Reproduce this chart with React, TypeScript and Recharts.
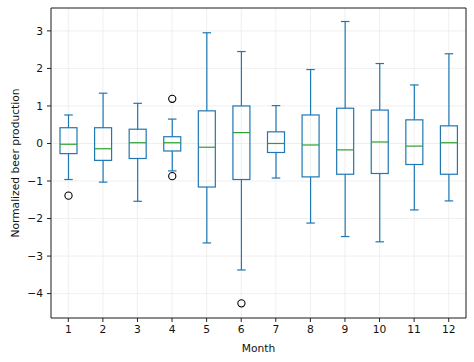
import React from 'react';
import { ComposedChart, Bar, XAxis, YAxis, CartesianGrid } from 'recharts';

// box plot stats per month
const months = ['1', '2', '3', '4', '5', '6', '7', '8', '9', '10', '11', '12'];
const whiskerHigh = [0.76, 1.34, 1.07, 0.65, 2.95, 2.45, 1.01, 1.97, 3.25, 2.13, 1.56, 2.39];
const q3 = [0.42, 0.42, 0.38, 0.18, 0.87, 1.0, 0.31, 0.76, 0.94, 0.89, 0.63, 0.47];
const medians = [-0.02, -0.14, 0.02, 0.02, -0.1, 0.29, 0.0, -0.04, -0.17, 0.04, -0.07, 0.02];
const q1 = [-0.27, -0.45, -0.4, -0.2, -1.16, -0.96, -0.24, -0.89, -0.82, -0.8, -0.56, -0.82];
const whiskerLow = [-0.96, -1.03, -1.54, -0.73, -2.65, -3.37, -0.92, -2.12, -2.48, -2.62, -1.77, -1.53];
const outliers = [[-1.39], [], [], [1.19, -0.87], [], [-4.26], [], [], [], [], [], []];
const yTicks = [-4, -3, -2, -1, 0, 1, 2, 3];

const data = months.map((m, i) => ({
  month: m,
  range: [whiskerLow[i], whiskerHigh[i]],
  lo: whiskerLow[i],
  hi: whiskerHigh[i],
  q1: q1[i],
  q3: q3[i],
  med: medians[i],
  out: outliers[i]
}));

const BLUE = '#1f77b4';
const GREEN = '#2ca02c';
const FONT = 'DejaVu Sans';
const FS = 10.7;

function BoxShape(props: any) {
  const { x, y, width, height, payload } = props;
  const top = Math.min(y, y + height);
  const h = Math.abs(height);
  const { lo, hi } = payload;
  // bar spans [lo, hi] on the library's scale, so interpolate inside it
  const toY = (v: number) => top + (h * (hi - v)) / (hi - lo);
  const cx = x + width / 2;
  const cap = width / 4;
  return (
    <g>
      <line x1={cx} x2={cx} y1={toY(hi)} y2={toY(payload.q3)} stroke={BLUE} strokeWidth={1.2} />
      <line x1={cx} x2={cx} y1={toY(payload.q1)} y2={toY(lo)} stroke={BLUE} strokeWidth={1.2} />
      <line x1={cx - cap} x2={cx + cap} y1={toY(hi)} y2={toY(hi)} stroke={BLUE} strokeWidth={1.2} />
      <line x1={cx - cap} x2={cx + cap} y1={toY(lo)} y2={toY(lo)} stroke={BLUE} strokeWidth={1.2} />
      <rect
        x={x}
        y={toY(payload.q3)}
        width={width}
        height={toY(payload.q1) - toY(payload.q3)}
        fill="none"
        stroke={BLUE}
        strokeWidth={1.2}
      />
      <line x1={x} x2={x + width} y1={toY(payload.med)} y2={toY(payload.med)} stroke={GREEN} strokeWidth={1.2} />
      {payload.out.map((v: number, k: number) => (
        <circle key={k} cx={cx} cy={toY(v)} r={3.6} fill="none" stroke="#000" strokeWidth={1.1} />
      ))}
    </g>
  );
}

const fmt = (v: number) => String(v).replace('-', '\u2212');

function YLabel(props: any) {
  const { viewBox } = props;
  const cx = viewBox.x + 15;
  const cy = viewBox.y + viewBox.height / 2;
  return (
    <text
      x={cx}
      y={cy}
      transform={`rotate(-90 ${cx} ${cy})`}
      textAnchor="middle"
      dominantBaseline="central"
      fill="#111"
      fontSize={FS}
      fontFamily={FONT}
    >
      Normalized beer production
    </text>
  );
}

function XLabel(props: any) {
  const { viewBox } = props;
  return (
    <text
      x={viewBox.x + viewBox.width / 2}
      y={348}
      textAnchor="middle"
      dominantBaseline="central"
      fill="#111"
      fontSize={FS}
      fontFamily={FONT}
    >
      Month
    </text>
  );
}

export default function App() {
  return (
    <div style={{ width: 474, height: 362, background: '#fff' }}>
      <style>{'body{margin:0}'}</style>
      <ComposedChart
        width={474}
        height={362}
        data={data}
        margin={{ top: 7, right: 7, bottom: 0, left: 0 }}
      >
        <CartesianGrid stroke="#ebebeb" strokeWidth={0.8} />
        <XAxis xAxisId="top" orientation="top" dataKey="month" height={1} tick={false} tickLine={false} stroke="#222" />
        <XAxis
          dataKey="month"
          height={44}
          stroke="#222"
          tickSize={4}
          tickMargin={3}
          tick={{ fill: '#111', fontSize: FS, fontFamily: FONT }}
          label={<XLabel />}
        />
        <YAxis
          type="number"
          domain={[-4.65, 3.61]}
          ticks={yTicks}
          width={51}
          stroke="#222"
          tickSize={4}
          tickMargin={4}
          tickFormatter={fmt}
          tick={{ fill: '#111', fontSize: FS, fontFamily: FONT }}
          label={<YLabel />}
        />
        <YAxis yAxisId="right" orientation="right" width={1} tick={false} tickLine={false} stroke="#222" />
        <Bar dataKey="range" barSize={17} shape={BoxShape} isAnimationActive={false} />
      </ComposedChart>
    </div>
  );
}
